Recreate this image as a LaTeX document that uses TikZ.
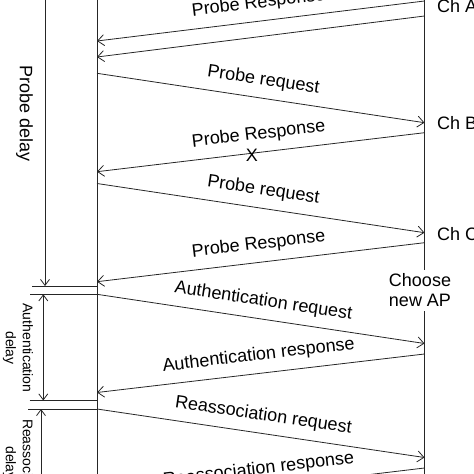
\documentclass[tikz,border=0pt]{standalone}
\usepackage{fontspec}
\setmainfont{Liberation Sans}
\usetikzlibrary{arrows.meta}
\begin{document}
\begin{tikzpicture}[x=1pt,y=-1pt,
  ln/.style={draw=black!85, line width=0.8pt},
  msg/.style={ln, -{Straight Barb[length=6.5pt,width=11pt]}},
  dimarr/.style={ln, {Straight Barb[length=6pt,width=9pt]}-{Straight Barb[length=6pt,width=9pt]}},
  dimend/.style={ln, -{Straight Barb[length=6pt,width=9pt]}},
  dimstart/.style={ln, {Straight Barb[length=6pt,width=9pt]}-},
  lbl/.style={sloped, above=9pt, inner sep=0pt, font=\fontsize{18}{20}\selectfont},
  txt/.style={inner sep=0pt, font=\fontsize{18}{20}\selectfont},
  small/.style={inner sep=0pt, align=center, font=\fontsize{14}{17}\selectfont}]
\useasboundingbox (0,0) rectangle (474,474);
\clip (0,0) rectangle (474,474);
% lifelines
\coordinate (cT) at (97,-5);
\coordinate (cB) at (97,480);
\coordinate (aT) at (424.5,-5);
\coordinate (aB) at (424.5,480);
\node[txt, align=center, inner sep=4pt] (choose) at (420,290.5) {Choose\\new AP};
\draw[ln] (cT) -- (cB);
\draw[ln] (aT) -- (choose.north -| aT);
\draw[ln] (choose.south -| aB) -- (aB);
% channel labels
\node[txt, anchor=base west] (chA) at (437,12.7) {Ch A};
\node[txt, anchor=base west] (chB) at (437,129.5) {Ch B};
\node[txt, anchor=base west] (chC) at (437,240) {Ch C};
% message endpoints
\coordinate (s0a) at (424.5,1);    \coordinate (s0c) at (97,41);
\coordinate (s0ba) at (424.5,16);  \coordinate (s0bc) at (97,57);
\coordinate (r1c) at (97,73.3);    \coordinate (r1a) at (424.5,122.7);
\coordinate (s1a) at (424.5,132.7);\coordinate (s1c) at (97,171.7);
\coordinate (r2c) at (97,183.5);   \coordinate (r2a) at (424.5,232.7);
\coordinate (s2a) at (424.5,242.7);\coordinate (s2c) at (97,281.7);
\coordinate (r3c) at (97,294.3);   \coordinate (r3a) at (424.5,343.5);
\coordinate (s3a) at (424.5,354);  \coordinate (s3c) at (97,392.5);
\coordinate (r4c) at (97,409);     \coordinate (r4a) at (424.5,457.5);
\coordinate (s4a) at (424.5,468);  \coordinate (s4c) at (97,507);
% messages
\draw[msg] (s0a) -- node[lbl] (l0) {Probe Response} (s0c);
\draw[msg] (s0ba) -- (s0bc);
\draw[msg] (r1c) -- node[lbl] (l1) {Probe request} (r1a);
\draw[msg] (s1a) -- node[lbl] (l2) {Probe Response} (s1c);
\draw[msg] (r2c) -- node[lbl] (l3) {Probe request} (r2a);
\draw[msg] (s2a) -- node[lbl] (l4) {Probe Response} (s2c);
\draw[msg] (r3c) -- node[lbl] (l5) {Authentication request} (r3a);
\draw[msg] (s3a) -- node[lbl] (l6) {Authentication response} (s3c);
\draw[msg] (r4c) -- node[lbl] (l7) {Reassociation request} (r4a);
\draw[msg] (s4a) -- node[lbl] (l8) {Reassociation response} (s4c);
% lost response mark
\node[txt] (lost) at (252,155) {X};
% delay dimension lines
\coordinate (pdT) at (45,-5);   \coordinate (pdB) at (45,286);
\coordinate (h1a) at (32,286);  \coordinate (h1b) at (97,286);
\coordinate (h2a) at (30,294.3);\coordinate (h2b) at (97,294.3);
\coordinate (adT) at (43.3,294.3); \coordinate (adB) at (43.3,400.5);
\coordinate (h3a) at (29.5,400.5); \coordinate (h3b) at (97,400.5);
\coordinate (h4a) at (28,409);  \coordinate (h4b) at (97,409);
\coordinate (rdT) at (41,409);  \coordinate (rdB) at (41,480);
\draw[dimend] (pdT) -- (pdB);
\draw[ln] (h1a) -- (h1b);
\draw[ln] (h2a) -- (h2b);
\draw[dimarr] (adT) -- (adB);
\draw[ln] (h3a) -- (h3b);
\draw[ln] (h4a) -- (h4b);
\draw[dimstart] (rdT) -- (rdB);
% delay labels
\node[txt, rotate=-90] (pd) at (24.6,114) {Probe delay};
\node[small, rotate=-90] (ad) at (18,348) {Authentication\\delay};
\node[small, rotate=-90] (rd) at (18,463) {Reassociation\\delay};
\end{tikzpicture}
\end{document}
